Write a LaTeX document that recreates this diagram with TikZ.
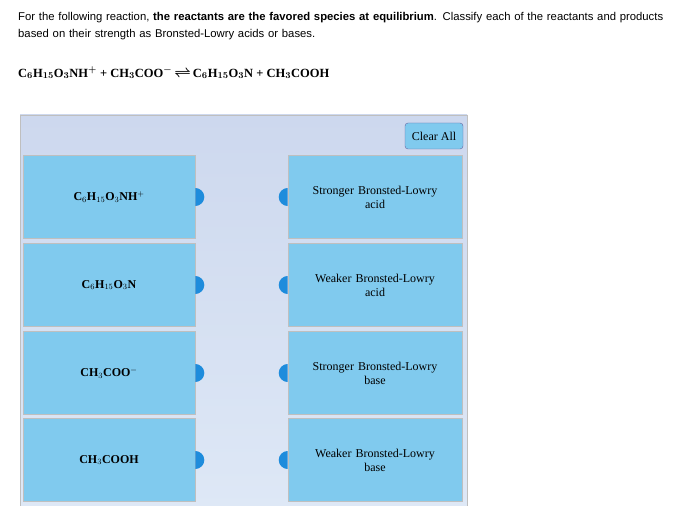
\documentclass[tikz,border=0pt]{standalone}
\usepackage{fontspec}
\setmainfont{Liberation Serif}
\newfontfamily\arial{Liberation Sans}
\definecolor{cardc}{RGB}{128,202,238}
\definecolor{tabc}{RGB}{30,140,220}
\definecolor{paneltop}{RGB}{205,216,238}
\definecolor{panelbot}{RGB}{222,232,246}
\begin{document}
\begin{tikzpicture}[x=1pt,y=-1pt,
  card/.style={draw=black!25,fill=cardc,line width=0.6pt,minimum width=172pt,minimum height=83pt,inner sep=0pt,font=\fontsize{12}{14}\selectfont,text width=150pt,align=center},
  tab/.style={fill=tabc,draw=none}]
\useasboundingbox (0,0) rectangle (700,505);
\fill[white] (0,0) rectangle (700,505);
\node[anchor=north west,align=left,font=\arial\fontsize{11.3}{17}\selectfont,text width=645pt,inner sep=0pt] (q) at (18,12)
 {For the following reaction, \textbf{the reactants are the favored species at equilibrium}. Classify each of the reactants and products based on their strength as Bronsted-Lowry acids or bases.};
\node[anchor=west,inner sep=0pt,font=\bfseries\boldmath\fontsize{12.5}{14}\selectfont] (eq) at (18,73)
 {C$_6$H$_{15}$O$_3$NH$^+$ + CH$_3$COO$^-$\,{\Large$\rightleftharpoons$}\,C$_6$H$_{15}$O$_3$N + CH$_3$COOH};
\draw[draw=black!25,top color=paneltop,bottom color=panelbot] (20,115) rectangle (467,510);
\node[draw=blue!40!black!60,fill=cardc,rounded corners=3pt,minimum width=58pt,minimum height=26pt,font=\fontsize{12}{14}\selectfont] (clear) at (434,136) {Clear All};
\foreach \i/\y/\l/\r in {1/197/{\textbf{C$_6$H$_{15}$O$_3$NH$^+$}}/{Stronger Bronsted-Lowry\\acid},
  2/285/{\textbf{C$_6$H$_{15}$O$_3$N}}/{Weaker Bronsted-Lowry\\acid},
  3/373/{\textbf{CH$_3$COO$^-$}}/{Stronger Bronsted-Lowry\\base},
  4/460/{\textbf{CH$_3$COOH}}/{Weaker Bronsted-Lowry\\base}}{
  \node[card] (L\i) at (109,\y) {\l};
  \node[card,minimum width=174pt] (R\i) at (375,\y) {\r};
  \fill[tab] (L\i.east) ++(0,-9) arc[start angle=-90,end angle=90,radius=9] -- cycle;
  \fill[tab] (R\i.west) ++(0,-9) arc[start angle=-90,end angle=-270,radius=9] -- cycle;
}
\end{tikzpicture}
\end{document}
